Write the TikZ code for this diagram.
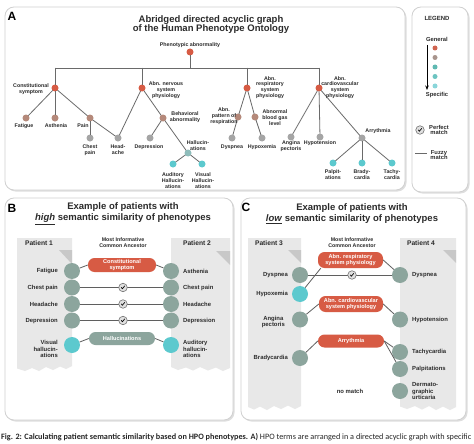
\documentclass[tikz,border=0pt]{standalone}
\usepackage{fontspec}
\setmainfont{Liberation Sans}
\newfontfamily\capfont{Carlito}
\usetikzlibrary{arrows.meta}
\definecolor{cRed}{HTML}{D75B44}
\definecolor{cBrown}{HTML}{B5897A}
\definecolor{cGray}{HTML}{A5A5A5}
\definecolor{cTealGray}{HTML}{8FBDBB}
\definecolor{cCyan}{HTML}{5CC9CE}
\definecolor{cSage}{HTML}{8CA59D}
\definecolor{cSheet}{HTML}{E8E8E8}
\definecolor{cFold}{HTML}{C8C8C8}
\definecolor{cEdge}{HTML}{6A6A6A}
\definecolor{cText}{HTML}{2B2B2B}
\definecolor{cBorder}{HTML}{D0D0D0}
\definecolor{lgA}{HTML}{D06450}
\definecolor{lgB}{HTML}{A8948C}
\definecolor{lgC}{HTML}{5FB9B2}
\definecolor{lgD}{HTML}{6CC4C1}
\definecolor{lgE}{HTML}{8AD6DA}
\tikzset{
  panel/.style={draw=cBorder, line width=0.8, fill=white, rounded corners=9},
  pshadow/.style={fill=black!13, rounded corners=9},
  dotA/.style={circle, inner sep=0, minimum size=7},
  dotL/.style={circle, inner sep=0, minimum size=5},
  dotB/.style={circle, inner sep=0, minimum size=16},
  lblA/.style={font=\fontsize{5.3}{5.9}\selectfont\bfseries, text=cText, align=center, inner sep=0},
  lblB/.style={font=\fontsize{5.9}{6.4}\selectfont\bfseries, text=cText, inner sep=0},
  boxB/.style={rectangle, rounded corners=6.5, inner sep=0, text=white,
     font=\fontsize{5.6}{6.1}\selectfont\bfseries, align=center},
  ttl/.style={font=\fontsize{9.5}{11}\selectfont\bfseries, text=cText, align=center, inner sep=0},
  plbl/.style={font=\fontsize{12}{12}\selectfont\bfseries, text=black, inner sep=0},
  edgeA/.style={draw=cEdge, line width=0.8, line cap=rect},
  edgeB/.style={draw=cEdge!90!black, line width=0.8},
  sheet/.style={fill=cSheet},
  fold/.style={fill=cFold},
  chk/.style={circle, draw=black!55, fill=black!12, line width=0.6, minimum size=8.5, inner sep=0,
     path picture={\draw[black, line width=0.7] ([xshift=-1.8pt,yshift=0.1pt]path picture bounding box.center) -- ++(1.2,1.3) -- ++(2.3,-2.8);}}
}
\begin{document}
\begin{tikzpicture}[x=1pt,y=-1pt]
\useasboundingbox (0,0) rectangle (474,444);
\clip (0,0) rectangle (474,444);
\fill[white] (0,0) rectangle (474,444);

% ---------- panels ----------
\fill[pshadow] (6.5,8.5) rectangle (406.5,191.5);
\draw[panel] (5,7) rectangle (405,190);
\fill[pshadow] (413.5,8.5) rectangle (469.5,193.5);
\draw[panel] (412,7) rectangle (468,192);
\fill[pshadow] (6.5,199.5) rectangle (234.5,421.5);
\draw[panel] (5,198) rectangle (233,420);
\fill[pshadow] (242.5,199.5) rectangle (467.5,421.5);
\draw[panel] (241,198) rectangle (466,420);

% ---------- panel A ----------
\node[plbl] (lA) at (12,16.5) {A};
\node[ttl, font=\fontsize{9.5}{9}\selectfont\bfseries] (tA) at (211,24.5) {Abridged directed acyclic graph\\of the Human Phenotype Ontology};

\node[dotA, fill=cRed] (pa) at (190,52) {};
\node[lblA] (t-pa) at (190,45.5) {Phenotypic abnormality};

\node[dotA, fill=cRed] (cs) at (55,88) {};
\node[dotA, fill=cRed] (ns) at (142,88) {};
\node[dotA, fill=cRed] (rs) at (247,88) {};
\node[dotA, fill=cRed] (cv) at (319,88) {};

\node[dotA, fill=cBrown] (fat) at (26,118) {};
\node[dotA, fill=cBrown] (ast) at (55,118) {};
\node[dotA, fill=cBrown] (pain) at (90,118) {};
\node[dotA, fill=cBrown] (beh) at (163,118) {};
\node[dotA, fill=cBrown] (pat) at (238,117) {};
\node[dotA, fill=cBrown] (bg) at (255,117) {};

\node[dotA, fill=cGray] (chp) at (90,138) {};
\node[dotA, fill=cGray] (hea) at (118,138) {};
\node[dotA, fill=cGray] (dep) at (150,138) {};
\node[dotA, fill=cGray] (dys) at (232,138) {};
\node[dotA, fill=cGray] (hyp) at (262,138) {};
\node[dotA, fill=cGray] (ang) at (291,137) {};
\node[dotA, fill=cGray] (hpt) at (320,137) {};
\node[dotA, fill=cGray] (arr) at (362,138) {};

\node[dotA, fill=cTealGray] (hal) at (188,153) {};
\node[dotA, fill=cCyan] (aud) at (173,164) {};
\node[dotA, fill=cCyan] (vis) at (202,164) {};
\node[dotA, fill=cCyan] (pal) at (333,163) {};
\node[dotA, fill=cCyan] (bra) at (362,163) {};
\node[dotA, fill=cCyan] (tac) at (392,163) {};

\coordinate (j0) at (190,68);
\coordinate (jcs) at (55,68);
\coordinate (jns) at (142,68);
\coordinate (jrs) at (247,68);
\coordinate (jcv) at (319,68);
\draw[edgeA] (pa) -- (j0);
\draw[edgeA] (jcs) -- (jcv);
\draw[edgeA] (jcs) -- (cs);
\draw[edgeA] (jns) -- (ns);
\draw[edgeA] (jrs) -- (rs);
\draw[edgeA] (jcv) -- (cv);
\draw[edgeA] (cs) -- (fat);
\draw[edgeA] (cs) -- (ast);
\draw[edgeA] (cs) -- (pain);
\draw[edgeA] (pain) -- (chp);
\draw[edgeA] (pain) -- (hea);
\draw[edgeA] (ns) -- (hea);
\draw[edgeA] (ns) -- (beh);
\draw[edgeA] (beh) -- (dep);
\draw[edgeA] (beh) -- (hal);
\draw[edgeA] (hal) -- (aud);
\draw[edgeA] (hal) -- (vis);
\draw[edgeA] (rs) -- (pat);
\draw[edgeA] (rs) -- (bg);
\draw[edgeA] (pat) -- (dys);
\draw[edgeA] (bg) -- (hyp);
\draw[edgeA] (cv) -- (ang);
\draw[edgeA] (cv) -- (hpt);
\draw[edgeA] (cv) -- (arr);
\draw[edgeA] (arr) -- (pal);
\draw[edgeA] (arr) -- (bra);
\draw[edgeA] (arr) -- (tac);

\node[lblA] (t-cs) at (31,89) {Constitutional\\symptom};
\node[lblA] (t-ns) at (166,90) {Abn. nervous\\system\\physiology};
\node[lblA] (t-rs) at (270,87.5) {Abn.\\respiratory\\system\\physiology};
\node[lblA] (t-cv) at (340,87.5) {Abn.\\cardiovascular\\system\\physiology};
\node[lblA] (t-fat) at (24,126) {Fatigue};
\node[lblA] (t-ast) at (56,126) {Asthenia};
\node[lblA] (t-pain) at (83,126) {Pain};
\node[lblA] (t-beh) at (185,117) {Behavioral\\abnormality};
\node[lblA] (t-pat) at (224,116.5) {Abn.\\pattern of\\respiration};
\node[lblA] (t-bg) at (275,118) {Abnormal\\blood gas\\level};
\node[lblA] (t-chp) at (90,150) {Chest\\pain};
\node[lblA] (t-hea) at (118,150) {Head-\\ache};
\node[lblA] (t-dep) at (149,147.5) {Depression};
\node[lblA] (t-hal) at (198,146) {Hallucin-\\ations};
\node[lblA] (t-aud) at (173,180.5) {Auditory\\Hallucin-\\ations};
\node[lblA] (t-vis) at (203,180.5) {Visual\\Hallucin-\\ations};
\node[lblA] (t-dys) at (232,147.5) {Dyspnea};
\node[lblA] (t-hyp) at (262,147.5) {Hypoxemia};
\node[lblA] (t-ang) at (291,146) {Angina\\pectoris};
\node[lblA] (t-hpt) at (320,143.5) {Hypotension};
\node[lblA] (t-arr) at (378,131) {Arrythmia};
\node[lblA] (t-pal) at (333,175) {Palpit-\\ations};
\node[lblA] (t-bra) at (362,175) {Brady-\\cardia};
\node[lblA] (t-tac) at (392,175) {Tachy-\\cardia};

% ---------- legend ----------
\node[lblA, font=\fontsize{6}{6}\selectfont\bfseries] (lg) at (437,18) {LEGEND};
\node[lblA, font=\fontsize{5.8}{6}\selectfont\bfseries] (lgG) at (437,39) {General};
\node[lblA, font=\fontsize{5.8}{6}\selectfont\bfseries] (lgS) at (437,95) {Specific};
\coordinate (ar1) at (427,45);
\coordinate (ar2) at (427,90);
\draw[line width=0.7, -{Stealth[length=4.5,width=3.5]}] (ar1) -- (ar2);
\node[dotL, fill=lgA] (lg1) at (435,48) {};
\node[dotL, fill=lgB] (lg2) at (435,57.5) {};
\node[dotL, fill=lgC] (lg3) at (435,67) {};
\node[dotL, fill=lgD] (lg4) at (435,76.5) {};
\node[dotL, fill=lgE] (lg5) at (435,86) {};
\node[chk] (lgchk) at (420,130) {};
\node[lblA, font=\fontsize{5.8}{5.8}\selectfont\bfseries] (lgP) at (439,130) {Perfect\\match};
\coordinate (fz1) at (415,153);
\coordinate (fz2) at (427,153);
\draw[draw=cEdge, line width=0.7] (fz1) -- (fz2);
\node[lblA, font=\fontsize{5.8}{5.8}\selectfont\bfseries] (lgF) at (439,155) {Fuzzy\\match};

% ---------- panel B ----------
\node[plbl] (lB) at (12,208) {B};
\node[ttl] (tB) at (123,213.5) {Example of patients with\\\underline{\textit{high}} semantic similarity of phenotypes};
\node[lblA] (mB) at (123,242.5) {Most Informative\\Common Ancestor};

\fill[sheet] (17,238) -- (72,238) -- (72,366) -- (66,369) -- (60,366.5) -- (53,370) -- (46,367) -- (39,371) -- (32,368) -- (25,371) -- (17,368.5) -- cycle;
\fill[fold] (59,250) -- (72,250) -- (72,264) -- cycle;
\fill[sheet] (171,238) -- (230,238) -- (230,368) -- (223,371) -- (216,367.5) -- (208,370.5) -- (200,367) -- (193,370.5) -- (186,367.5) -- (178,370) -- (171,367) -- cycle;
\fill[fold] (216,251) -- (230,251) -- (230,265) -- cycle;
\node[font=\fontsize{6.7}{7}\selectfont\bfseries, text=cText, inner sep=0] (p1) at (39,243) {Patient 1};
\node[font=\fontsize{6.7}{7}\selectfont\bfseries, text=cText, inner sep=0] (p2) at (197,243) {Patient 2};

\node[dotB, fill=cSage] (b1) at (72,271) {};
\node[dotB, fill=cSage] (b2) at (72,287.5) {};
\node[dotB, fill=cSage] (b3) at (72,304) {};
\node[dotB, fill=cSage] (b4) at (72,320.5) {};
\node[dotB, fill=cCyan] (b5) at (72,345) {};
\node[dotB, fill=cSage] (c1) at (171,271) {};
\node[dotB, fill=cSage] (c2) at (171,287.5) {};
\node[dotB, fill=cSage] (c3) at (171,304) {};
\node[dotB, fill=cSage] (c4) at (171,320.5) {};
\node[dotB, fill=cCyan] (c5) at (171,345) {};

\node[boxB, fill=cRed, minimum width=68, minimum height=14] (bx1) at (122,265) {Constitutional\\symptom};
\node[boxB, fill=cSage, minimum width=66, minimum height=13] (bx2) at (122,338.5) {Hallucinations};

\draw[edgeB] (b1) -- (bx1.west);
\draw[edgeB] (bx1.east) -- (c1);
\draw[edgeB] (b2) -- (c2);
\draw[edgeB] (b3) -- (c3);
\draw[edgeB] (b4) -- (c4);
\draw[edgeB] (b5) -- (bx2.west);
\draw[edgeB] (bx2.east) -- (c5);
\node[chk] (k2) at (123,287.5) {};
\node[chk] (k3) at (123,304) {};
\node[chk] (k4) at (123,320.5) {};

\node[lblB, anchor=east] (tb1) at (58,271) {Fatigue};
\node[lblB, anchor=east] (tb2) at (58,287.5) {Chest pain};
\node[lblB, anchor=east] (tb3) at (58,304) {Headache};
\node[lblB, anchor=east] (tb4) at (58,320.5) {Depression};
\node[lblB, anchor=east, align=right] (tb5) at (58,349) {Visual\\hallucin-\\ations};
\node[lblB, anchor=west] (tc1) at (183,271) {Asthenia};
\node[lblB, anchor=west] (tc2) at (183,287.5) {Chest pain};
\node[lblB, anchor=west] (tc3) at (183,304) {Headache};
\node[lblB, anchor=west] (tc4) at (183,320.5) {Depression};
\node[lblB, anchor=west, align=left] (tc5) at (183,349) {Auditory\\hallucin-\\ations};

% ---------- panel C ----------
\node[plbl] (lC) at (246,207) {C};
\node[ttl] (tC) at (352,213.5) {Example of patients with\\\underline{\textit{low}} semantic similarity of phenotypes};
\node[lblA] (mC) at (352,242.5) {Most Informative\\Common Ancestor};

\fill[sheet] (248,238) -- (301,238) -- (301,406) -- (295,409) -- (288,405.5) -- (281,409) -- (274,406) -- (267,410) -- (260,406.5) -- (254,409.5) -- (248,407) -- cycle;
\fill[fold] (288,250) -- (301,250) -- (301,263) -- cycle;
\fill[sheet] (400,238) -- (456,238) -- (456,407) -- (450,410) -- (443,406.5) -- (436,410) -- (429,406) -- (422,409.5) -- (415,406) -- (407,409) -- (400,406.5) -- cycle;
\fill[fold] (443,250) -- (456,250) -- (456,263) -- cycle;
\node[font=\fontsize{6.7}{7}\selectfont\bfseries, text=cText, inner sep=0] (p3) at (269,243) {Patient 3};
\node[font=\fontsize{6.7}{7}\selectfont\bfseries, text=cText, inner sep=0] (p4) at (421,243) {Patient 4};

\node[dotB, fill=cSage] (d1) at (300,275) {};
\node[dotB, fill=cCyan] (d2) at (300,294) {};
\node[dotB, fill=cSage] (d3) at (300,319.5) {};
\node[dotB, fill=cSage] (d4) at (300,358) {};
\node[dotB, fill=cSage] (e1) at (400,275) {};
\node[dotB, fill=cSage] (e2) at (400,319.5) {};
\node[dotB, fill=cSage] (e3) at (400,352) {};
\node[dotB, fill=cSage] (e4) at (400,369) {};
\node[dotB, fill=cSage] (e5) at (400,391) {};

\node[boxB, fill=cRed, minimum width=65, minimum height=16] (rx1) at (350.5,260) {Abn. respiratory\\system physiology};
\node[boxB, fill=cRed, minimum width=64, minimum height=16] (rx2) at (351,304) {Abn. cardiovascular\\system physiology};
\node[boxB, fill=cRed, minimum width=66, minimum height=13] (rx3) at (351,341) {Arrythmia};

\draw[edgeB] (d1) -- (e1);
\draw[edgeB] (d2) -- ([xshift=3pt]rx1.south west);
\draw[edgeB] (rx1.east) -- (e1);
\draw[edgeB] (d3) -- (rx2.west);
\draw[edgeB] (rx2.east) -- (e2);
\draw[edgeB] (d4) -- (rx3.west);
\draw[edgeB] (rx3.east) -- (e3);
\draw[edgeB] (rx3.east) -- (e4);
\node[chk] (k5) at (352,275) {};

\node[lblB, anchor=east] (td1) at (288,275) {Dyspnea};
\node[lblB, anchor=east] (td2) at (288,294) {Hypoxemia};
\node[lblB, anchor=east, align=center] (td3) at (285,322) {Angina\\pectoris};
\node[lblB, anchor=east] (td4) at (288,358) {Bradycardia};
\node[lblB, anchor=west] (te1) at (412,275) {Dyspnea};
\node[lblB, anchor=west] (te2) at (412,319.5) {Hypotension};
\node[lblB, anchor=west] (te3) at (412,352) {Tachycardia};
\node[lblB, anchor=west] (te4) at (412,369) {Palpitations};
\node[lblB, anchor=west, align=left] (te5) at (412,391) {Dermato-\\graphic\\urticaria};
\node[lblB] (nm) at (350,391) {no match};

% ---------- caption ----------
\node[anchor=west, inner sep=0, text=black!85, font=\capfont\fontsize{8.2}{9}\selectfont] (cap) at (1,437)
  {\textbf{Fig. 2: Calculating patient semantic similarity based on HPO phenotypes. A)} HPO terms are arranged in a directed acyclic graph with specific};
\end{tikzpicture}
\end{document}
